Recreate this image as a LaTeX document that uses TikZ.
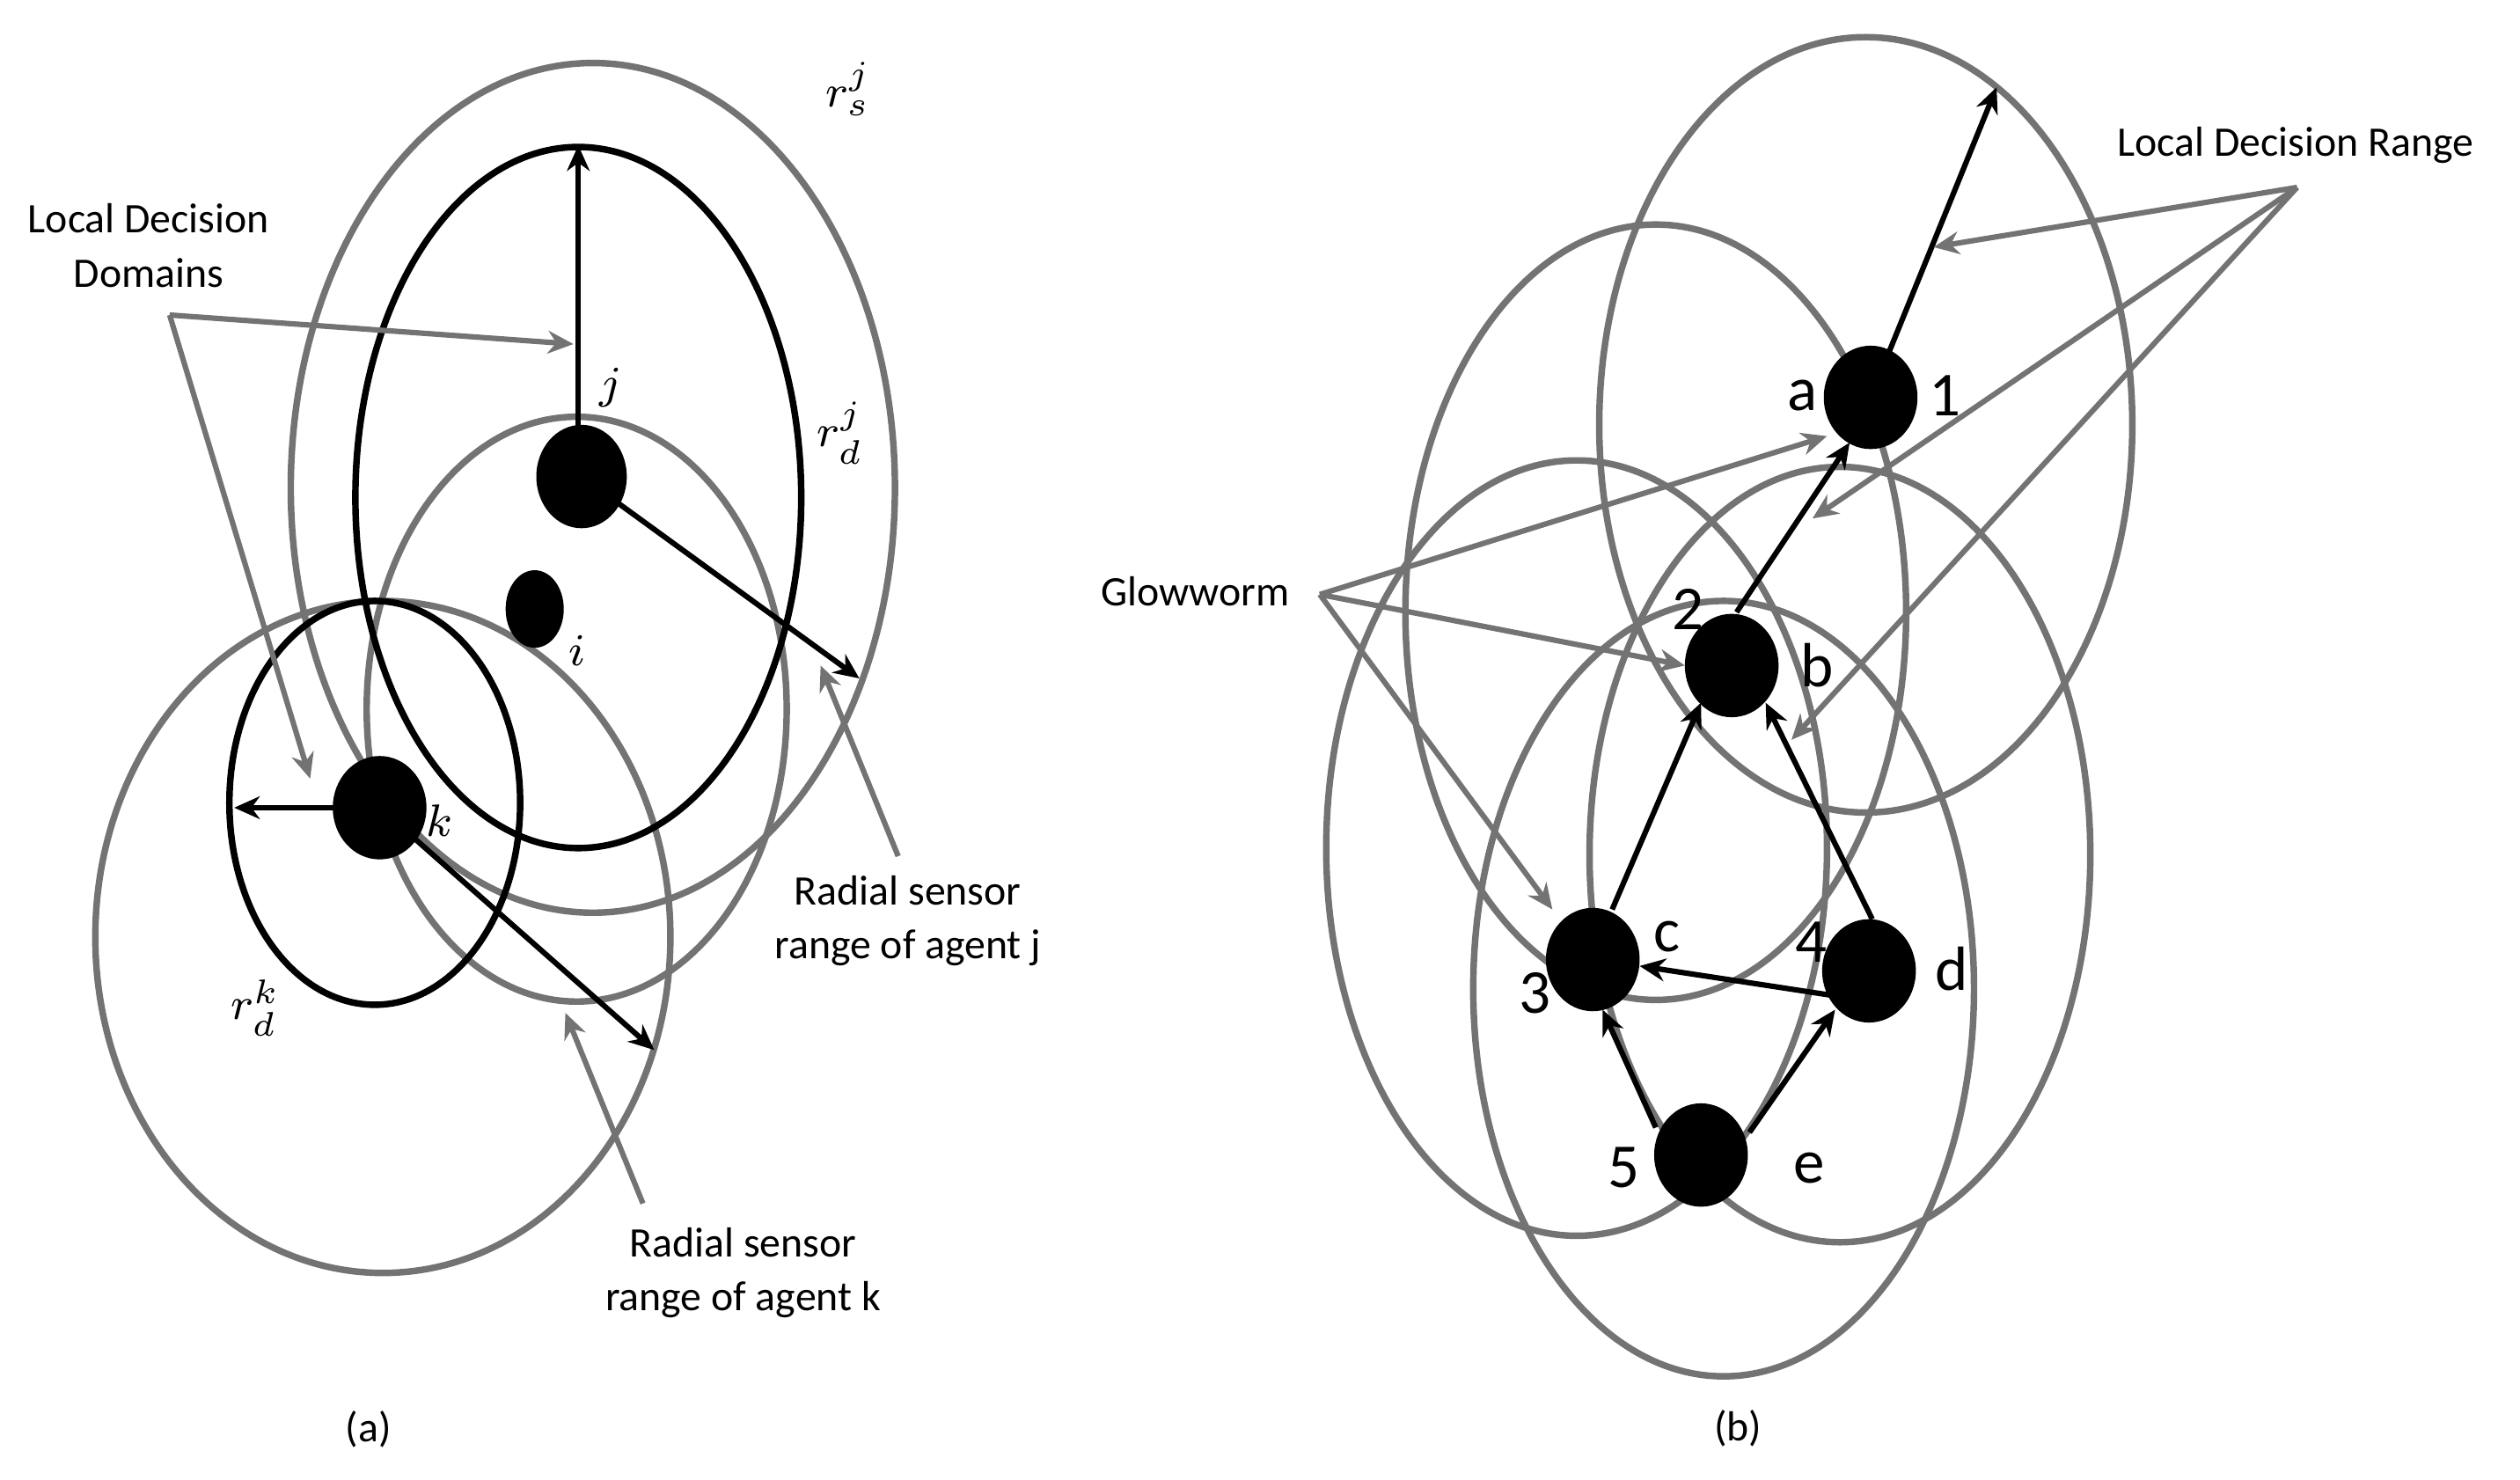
\documentclass[tikz,border=0pt]{standalone}
\usepackage{fontspec}
\setmainfont{Carlito}
\usetikzlibrary{arrows.meta}
\begin{document}
\begin{tikzpicture}[x=0.01cm,y=-0.01cm,
  gr/.style={draw=gray!90!black,line width=1.15pt},
  bk/.style={draw=black,line width=1.15pt},
  dot/.style={fill=black},
  arr/.style={black,line width=0.95pt,-{Stealth[length=4.5pt,width=4pt]}},
  garr/.style={gray!90!black,line width=0.95pt,-{Stealth[length=4.5pt,width=4pt]}},
  txt/.style={font=\fontsize{7.4}{9.5}\selectfont,align=center},
  big/.style={font=\fontsize{11}{12}\selectfont},
  ml/.style={font=\fontsize{8}{10}\selectfont}]
\useasboundingbox (0,0) rectangle (1560,916);
% ---------- (a)
\draw[gr] (367,302) ellipse [x radius=187,y radius=263];
\draw[gr] (357,439) ellipse [x radius=130,y radius=181];
\draw[gr] (237,580) ellipse [x radius=178,y radius=208];
\draw[bk] (358,308) ellipse [x radius=138,y radius=217];
\draw[bk] (232,497) ellipse [x radius=90,y radius=125];
\fill[dot] (360,295) ellipse [x radius=28,y radius=32]; \coordinate (j) at (360,295);
\fill[dot] (331,377) ellipse [x radius=18,y radius=24]; \coordinate (i) at (331,377);
\fill[dot] (235,500) ellipse [x radius=29,y radius=32]; \coordinate (k) at (235,500);
\coordinate (jt) at (358,90); \coordinate (jr) at (532,420);
\coordinate (kl) at (145,500); \coordinate (kr) at (405,650);
\draw[arr] (358,295) -- (jt);
\draw[arr] (j) -- (jr);
\draw[arr] (k) -- (kl);
\draw[arr] (k) -- (kr);
\node[ml] (lj) at (378,240) {$j$};
\node[ml] (li) at (357,403) {$i$};
\node[ml] (lk) at (272,508) {$k$};
\node[ml] (rsj) at (525,55) {$r_s^j$};
\node[ml] (rdj) at (520,268) {$r_d^j$};
\node[ml] (rdk) at (158,624) {$r_d^k$};
\node[txt] (ldd) at (92,152) {Local Decision\\Domains};
\coordinate (ldo) at (105,195);
\coordinate (ldt1) at (355,213); \coordinate (ldt2) at (192,482);
\draw[garr] (ldo) -- (ldt1);
\draw[garr] (ldo) -- (ldt2);
\node[txt] (rsj2) at (562,570) {Radial sensor\\range of agent j};
\coordinate (rsjo) at (556,530); \coordinate (rsjt) at (508,412);
\draw[garr] (rsjo) -- (rsjt);
\node[txt] (rsk2) at (460,788) {Radial sensor\\range of agent k};
\coordinate (rsko) at (398,745); \coordinate (rskt) at (350,627);
\draw[garr] (rsko) -- (rskt);
\node[txt] (capa) at (228,885) {(a)};
% ---------- (b)
\draw[gr] (1155,263) ellipse [x radius=165,y radius=240];
\draw[gr] (1025,379) ellipse [x radius=155,y radius=240];
\draw[gr] (976,525) ellipse [x radius=155,y radius=240];
\draw[gr] (1139,529) ellipse [x radius=155,y radius=240];
\draw[gr] (1067,612) ellipse [x radius=155,y radius=240];
\fill[dot] (1158,246) ellipse [x radius=29,y radius=32]; \coordinate (A) at (1158,246);
\fill[dot] (1072,412) ellipse [x radius=29,y radius=32]; \coordinate (B) at (1072,412);
\fill[dot] (986,594) ellipse [x radius=29,y radius=32]; \coordinate (C) at (986,594);
\fill[dot] (1157,601) ellipse [x radius=29,y radius=32]; \coordinate (D) at (1157,601);
\fill[dot] (1053,715) ellipse [x radius=29,y radius=32]; \coordinate (E) at (1053,715);
\coordinate (At) at (1236,54);
\draw[arr] (A) -- (At);
\draw[arr] (1075,379) -- (1145,274);
\draw[arr] (998,563) -- (1053,435);
\draw[arr] (1159,569) -- (1093,435);
\draw[arr] (1133,616) -- (1015,598);
\draw[arr] (1025,698) -- (992,625);
\draw[arr] (1083,701) -- (1136,625);
\node[big] (la) at (1116,245) {a};
\node[big] (l1) at (1204,245) {1};
\node[big] (l2) at (1045,377) {2};
\node[big] (lb) at (1125,412) {b};
\node[big] (lc) at (1032,580) {c};
\node[big] (l3) at (950,615) {3};
\node[big] (l4) at (1121,583) {4};
\node[big] (ld) at (1208,600) {d};
\node[big] (l5) at (1005,723) {5};
\node[big] (le) at (1120,723) {e};
\node[txt] (gw) at (740,366) {Glowworm};
\coordinate (gwo) at (817,368);
\coordinate (g1) at (1131,270); \coordinate (g2) at (1043,412); \coordinate (g3) at (961,563);
\draw[garr] (gwo) -- (g1);
\draw[garr] (gwo) -- (g2);
\draw[garr] (gwo) -- (g3);
\node[txt] (ldr) at (1421,90) {Local Decision Range};
\coordinate (ldro) at (1422,116);
\coordinate (d1) at (1197,153); \coordinate (d2) at (1122,321); \coordinate (d3) at (1109,458);
\draw[garr] (ldro) -- (d1);
\draw[garr] (ldro) -- (d2);
\draw[garr] (ldro) -- (d3);
\node[txt] (capb) at (1076,884) {(b)};
\end{tikzpicture}
\end{document}
